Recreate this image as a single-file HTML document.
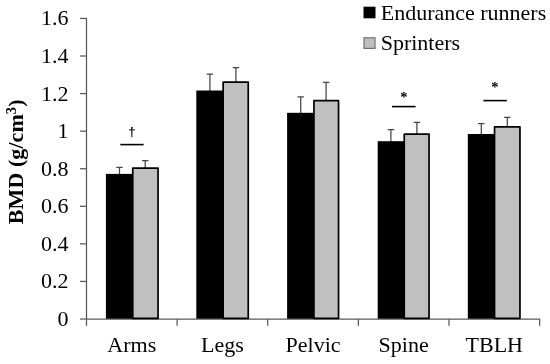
<!DOCTYPE html>
<html><head><meta charset="utf-8"><title>BMD chart</title>
<style>html,body{margin:0;padding:0;background:#fff}body{width:550px;height:364px;overflow:hidden}</style>
</head><body>
<svg width="550" height="364" viewBox="0 0 550 364" style="display:block;filter:blur(0.3px)">
<rect width="550" height="364" fill="#fff"/>
<g font-family="'Liberation Serif', 'Times New Roman', serif" font-size="22" fill="#000">
<g stroke="#585858" stroke-width="1.25" fill="none">
<path d="M86.5 17.939999999999998V319.0"/>
<path d="M86.0 319.0H540.1"/>
<path d="M80.0 319.00H86.5"/>
<path d="M80.0 281.43H86.5"/>
<path d="M80.0 243.86H86.5"/>
<path d="M80.0 206.29H86.5"/>
<path d="M80.0 168.72H86.5"/>
<path d="M80.0 131.15H86.5"/>
<path d="M80.0 93.58H86.5"/>
<path d="M80.0 56.01H86.5"/>
<path d="M80.0 18.44H86.5"/>
<path d="M86.50 319.0V325.8"/>
<path d="M177.12 319.0V325.8"/>
<path d="M267.74 319.0V325.8"/>
<path d="M358.36 319.0V325.8"/>
<path d="M448.98 319.0V325.8"/>
<path d="M539.60 319.0V325.8"/>
</g>
<text x="68.6" y="326.00" text-anchor="end">0</text>
<text x="68.6" y="288.43" text-anchor="end">0.2</text>
<text x="68.6" y="250.86" text-anchor="end">0.4</text>
<text x="68.6" y="213.29" text-anchor="end">0.6</text>
<text x="68.6" y="175.72" text-anchor="end">0.8</text>
<text x="68.6" y="138.15" text-anchor="end">1</text>
<text x="68.6" y="100.58" text-anchor="end">1.2</text>
<text x="68.6" y="63.01" text-anchor="end">1.4</text>
<text x="68.6" y="25.44" text-anchor="end">1.6</text>
<path d="M119.50 174.9V167.4M116.30 167.4H122.70" stroke="#454545" stroke-width="1.25" fill="none"/>
<path d="M145.20 168.2V160.7M142.00 160.7H148.40" stroke="#454545" stroke-width="1.25" fill="none"/>
<rect x="105.90" y="173.90" width="27.00" height="144.80" fill="#000"/>
<rect x="132.75" y="168.05" width="25.30" height="150.30" fill="#c0c0c0" stroke="#000" stroke-width="1.7" stroke-linejoin="round"/>
<path d="M209.90 91.5V74.2M206.70 74.2H213.10" stroke="#454545" stroke-width="1.25" fill="none"/>
<path d="M235.90 82.3V67.7M232.70 67.7H239.10" stroke="#454545" stroke-width="1.25" fill="none"/>
<rect x="196.30" y="90.50" width="27.00" height="228.20" fill="#000"/>
<rect x="223.15" y="82.15" width="25.10" height="236.20" fill="#c0c0c0" stroke="#000" stroke-width="1.7" stroke-linejoin="round"/>
<path d="M300.70 113.8V96.9M297.50 96.9H303.90" stroke="#454545" stroke-width="1.25" fill="none"/>
<path d="M326.10 100.8V82.3M322.90 82.3H329.30" stroke="#454545" stroke-width="1.25" fill="none"/>
<rect x="287.10" y="112.80" width="27.00" height="205.90" fill="#000"/>
<rect x="313.95" y="100.65" width="24.60" height="217.70" fill="#c0c0c0" stroke="#000" stroke-width="1.7" stroke-linejoin="round"/>
<path d="M390.90 142.2V129.7M387.70 129.7H394.10" stroke="#454545" stroke-width="1.25" fill="none"/>
<path d="M416.90 134.3V122.4M413.70 122.4H420.10" stroke="#454545" stroke-width="1.25" fill="none"/>
<rect x="377.70" y="141.20" width="26.70" height="177.50" fill="#000"/>
<rect x="404.25" y="134.15" width="24.80" height="184.20" fill="#c0c0c0" stroke="#000" stroke-width="1.7" stroke-linejoin="round"/>
<path d="M481.30 135.0V123.6M478.10 123.6H484.50" stroke="#454545" stroke-width="1.25" fill="none"/>
<path d="M507.30 127.0V117.4M504.10 117.4H510.50" stroke="#454545" stroke-width="1.25" fill="none"/>
<rect x="467.80" y="134.00" width="26.90" height="184.70" fill="#000"/>
<rect x="494.55" y="126.85" width="25.40" height="191.50" fill="#c0c0c0" stroke="#000" stroke-width="1.7" stroke-linejoin="round"/>
<text x="131.81" y="352" text-anchor="middle">Arms</text>
<text x="222.43" y="352" text-anchor="middle">Legs</text>
<text x="313.05" y="352" text-anchor="middle">Pelvic</text>
<text x="403.67" y="352" text-anchor="middle">Spine</text>
<text x="494.29" y="352" text-anchor="middle">TBLH</text>
<path d="M120.3 144.6H143.6" stroke="#000" stroke-width="1.6"/>
<text x="131.9" y="136.0" text-anchor="middle" font-size="13px" font-weight="bold" font-family="'Liberation Sans', Arial, sans-serif">†</text>
<path d="M392.0 106.6H415.6" stroke="#000" stroke-width="1.6"/>
<text x="403.75" y="101.6" text-anchor="middle" font-size="14.5px" font-weight="bold">*</text>
<path d="M483.4 100.6H506.8" stroke="#000" stroke-width="1.6"/>
<text x="494.8" y="91.5" text-anchor="middle" font-size="14.5px" font-weight="bold">*</text>
<rect x="363.5" y="6.7" width="12" height="11.6" fill="#000"/>
<text x="380.7" y="19.8">Endurance runners</text>
<rect x="364.0" y="37.8" width="11.0" height="10.6" fill="#c0c0c0" stroke="#707070" stroke-width="1.2"/>
<text x="380.7" y="49.8">Sprinters</text>
<text transform="translate(22.8 161.8) rotate(-90)" text-anchor="middle" font-weight="bold" letter-spacing="0.08">BMD (g/cm<tspan font-size="14.5" dy="-6.7">3</tspan><tspan dy="6.7">)</tspan></text>
</g></svg>
</body></html>
